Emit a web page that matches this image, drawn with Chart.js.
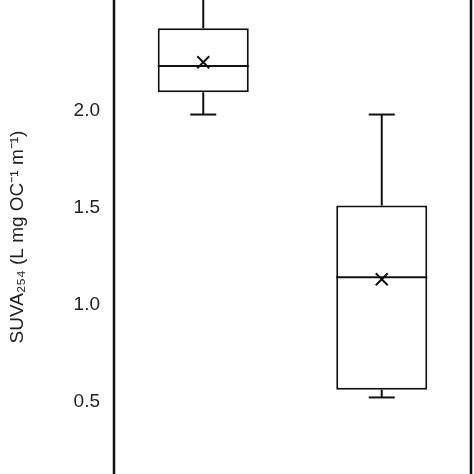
<!DOCTYPE html>
<html><head><meta charset="utf-8">
<script src="https://cdn.jsdelivr.net/npm/chart.js@4"></script>
<style>html,body{margin:0;padding:0;background:#fff}#w{width:474px;height:474px}</style>
</head><body><div id="w"><canvas id="c"></canvas></div>
<script>
const categories = ["A", "B"];
const minVals = [1.98, 0.52];
const q1Vals = [2.095, 0.56];
const medianVals = [2.23, 1.14];
const q3Vals = [2.425, 1.51];
const maxVals = [2.6, 1.98];
const meanVals = [2.25, 1.13];
const yTicks = [0.5, 1.0, 1.5, 2.0];

const boxPlugin = {
  id: 'box',
  afterDatasetsDraw(chart) {
    const ctx = chart.ctx, y = chart.scales.y, a = chart.chartArea;
    const meta = chart.getDatasetMeta(0);
    ctx.save();
    ctx.strokeStyle = '#111'; ctx.lineWidth = 2;
    meta.data.forEach((bar, i) => {
      const cx = bar.x, hw = bar.width / 2, cap = 13;
      const line = (x1, y1, x2, y2) => { ctx.beginPath(); ctx.moveTo(x1, y1); ctx.lineTo(x2, y2); ctx.stroke(); };
      line(cx, y.getPixelForValue(q3Vals[i]), cx, y.getPixelForValue(maxVals[i]));
      line(cx, y.getPixelForValue(q1Vals[i]), cx, y.getPixelForValue(minVals[i]));
      line(cx - cap, y.getPixelForValue(maxVals[i]), cx + cap, y.getPixelForValue(maxVals[i]));
      line(cx - cap, y.getPixelForValue(minVals[i]), cx + cap, y.getPixelForValue(minVals[i]));
      line(cx - hw, y.getPixelForValue(medianVals[i]), cx + hw, y.getPixelForValue(medianVals[i]));
      const my = y.getPixelForValue(meanVals[i]), s = 6;
      line(cx - s, my - s, cx + s, my + s);
      line(cx - s, my + s, cx + s, my - s);
    });
    ctx.lineWidth = 2.5;
    ctx.beginPath(); ctx.moveTo(a.left, 0); ctx.lineTo(a.left, chart.height);
    ctx.moveTo(a.right, 0); ctx.lineTo(a.right, chart.height); ctx.stroke();
    ctx.restore();
  }
};

new Chart(document.getElementById('c'), {
  type: 'bar',
  data: { labels: categories, datasets: [{
    data: q1Vals.map((v, i) => [v, q3Vals[i]]),
    backgroundColor: '#fff', borderColor: '#111', borderWidth: 2, borderSkipped: false,
    barPercentage: 0.51, categoryPercentage: 1
  }]},
  options: {
    responsive: true, maintainAspectRatio: false, animation: false,
    layout: { padding: { top: -24, bottom: -24, right: 3, left: 0 } },
    plugins: { legend: { display: false }, tooltip: { enabled: false } },
    scales: {
      x: { display: false },
      y: {
        min: 0.256, max: 2.44,
        afterFit(s) { s.width = 114; },
        afterBuildTicks(s) { s.ticks = yTicks.map(v => ({ value: v })); },
        grid: { display: false, drawTicks: false }, border: { display: false },
        ticks: { color: '#222', padding: 14, font: { family: 'Liberation Sans', size: 19 },
          callback: v => Number(v).toFixed(1) },
        title: { display: true, text: 'SUVA₂₅₄ (L mg OC⁻¹ m⁻¹)', color: '#222',
          font: { family: 'Liberation Sans', size: 19 }, padding: { top: 6, bottom: 0 } }
      }
    }
  },
  plugins: [boxPlugin]
});
</script></body></html>
